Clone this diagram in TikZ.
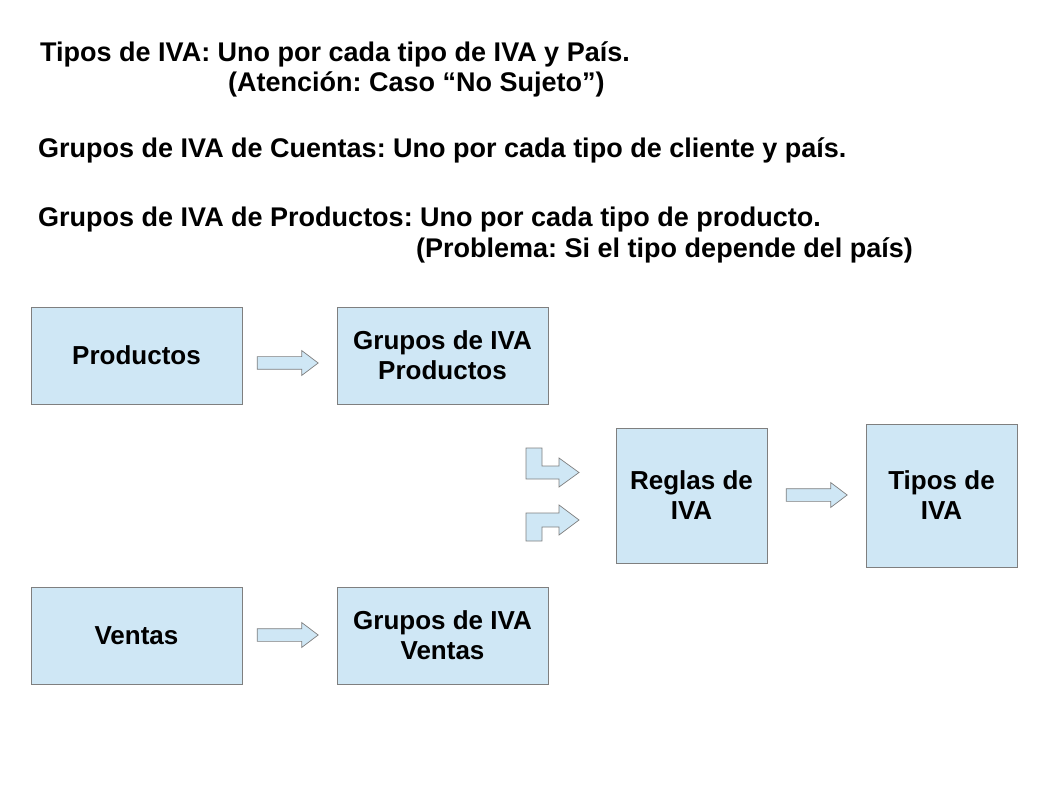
\documentclass[tikz,border=0pt]{standalone}
\usepackage{fontspec}
\setmainfont{Liberation Sans}
\usepackage{xcolor}
\usepackage{tikz}
\usetikzlibrary{shapes.arrows}

\definecolor{boxblue}{HTML}{CFE7F5}
\definecolor{boxline}{HTML}{7F7F7F}

\frenchspacing

\begin{document}
\begin{tikzpicture}[
  x=1pt, y=-1pt,
  every node/.style={font=\fontsize{26}{30}\selectfont\bfseries},
  note/.style={anchor=west, inner sep=0pt, align=left,
    font=\fontsize{27}{30}\selectfont\bfseries},
  box/.style={
    rectangle, draw=boxline, fill=boxblue, line width=0.8pt,
    align=center, inner sep=2pt,
  },
  blockarrow/.style={
    single arrow, draw=boxline, fill=boxblue, line width=0.7pt,
    inner sep=6pt, single arrow head extend=6pt,
    single arrow tip angle=74, minimum height=61pt,
  },
  bentarrow/.style={draw=boxline, fill=boxblue, line width=0.7pt},
]
\useasboundingbox (0,0) rectangle (1058,794);

% ---- Notes ----
\node[note] (tiposT) at (40,54) {Tipos de IVA: Uno por cada tipo de IVA y País.};
\node[note] (tiposN) at (228,84) {(Atención: Caso “No Sujeto”)};
\node[note] (cuentasT) at (38,150) {Grupos de IVA de Cuentas: Uno por cada tipo de cliente y país.};
\node[note] (prodT) at (38,220) {Grupos de IVA de Productos: Uno por cada tipo de producto.};
\node[note] (prodN) at (416,250) {(Problema: Si el tipo depende del país)};

% ---- Boxes ----
\node[box, minimum width=211pt, minimum height=97pt] (productos) at (136.5,355.5) {Productos};
\node[box, minimum width=211pt, minimum height=97pt] (gproductos) at (442.5,355.5) {Grupos de IVA\\Productos};
\node[box, minimum width=211pt, minimum height=97pt] (ventas) at (136.5,635.5) {Ventas};
\node[box, minimum width=211pt, minimum height=97pt] (gventas) at (442.5,635.5) {Grupos de IVA\\Ventas};
\node[box, minimum width=151pt, minimum height=135pt] (reglas) at (691.5,495.5) {Reglas de\\IVA};
\node[box, minimum width=151pt, minimum height=143pt] (tipos) at (941.5,495.5) {Tipos de\\IVA};

% ---- Block arrows ----
\node[blockarrow] (aprod) at (283.5,363) {};
\node[blockarrow] (avent) at (283.5,635) {};
\node[blockarrow] (areg) at (812.5,495) {};

% ---- Bent arrows into the rules ----
\draw[bentarrow] (526,448) -- (542,448) -- (542,466) -- (559,466) -- (559,458)
  -- (579,472.5) -- (559,487) -- (559,479) -- (526,479) -- cycle;
\draw[bentarrow] (526,541) -- (526,513) -- (559,513) -- (559,505)
  -- (579,520) -- (559,535) -- (559,527) -- (542,527) -- (542,541) -- cycle;

\end{tikzpicture}
\end{document}
